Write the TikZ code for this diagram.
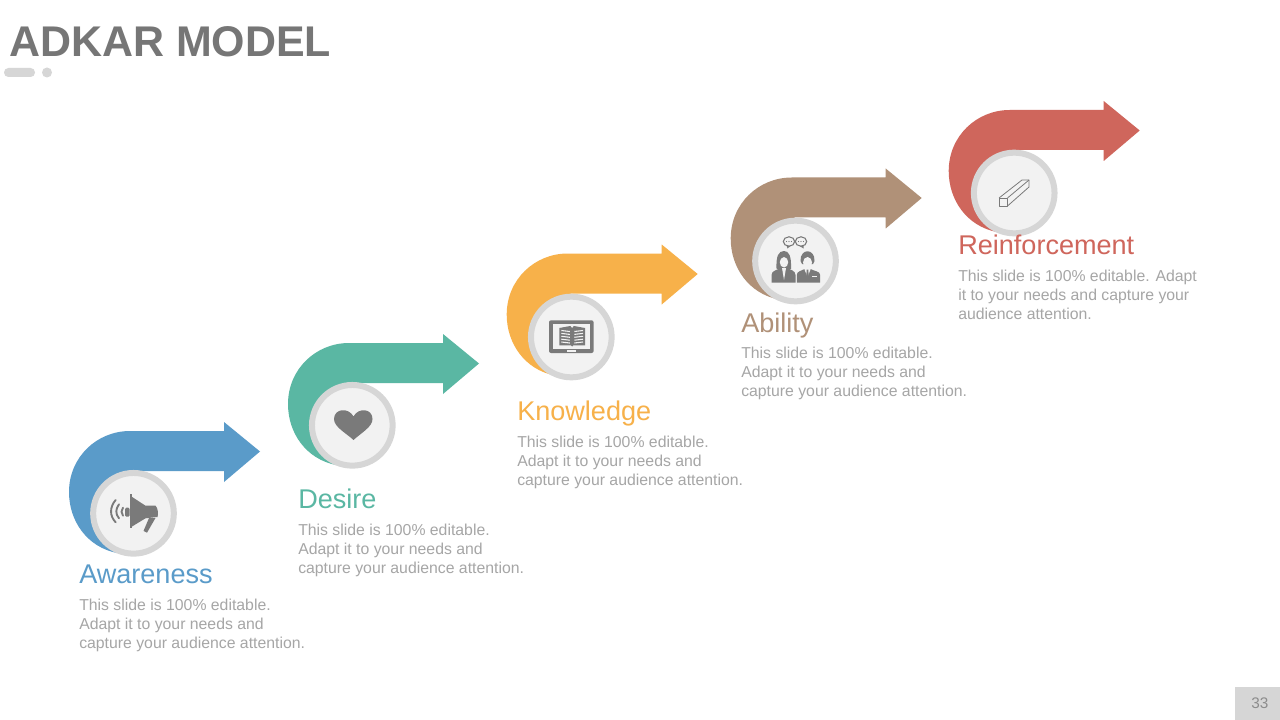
\documentclass[tikz,border=0pt]{standalone}
\usepackage{fontspec}
\setmainfont{Liberation Sans}
\definecolor{cblue}{HTML}{5A9BC9}
\definecolor{cteal}{HTML}{5AB7A3}
\definecolor{corange}{HTML}{F7B14A}
\definecolor{cbrown}{HTML}{B09178}
\definecolor{cred}{HTML}{CF665C}
\definecolor{ring}{HTML}{D6D6D6}
\definecolor{disc}{HTML}{F2F2F2}
\definecolor{icon}{HTML}{7A7A7A}
\definecolor{bodygray}{HTML}{A6A6A6}
\definecolor{titlegray}{HTML}{767676}
\definecolor{pagegray}{HTML}{8C8C8C}
\tikzset{
  x=0.75pt,y=-0.75pt,
  discnode/.style={circle,draw=ring,line width=4.5pt,fill=disc,minimum size=60.5pt,inner sep=0pt},
  headtext/.style={anchor=base west,inner sep=0pt,font=\fontsize{20.3}{24}\selectfont},
  bodytext/.style={anchor=north west,inner sep=0pt,align=left,text=bodygray,font=\fontsize{11.85}{14.25}\selectfont},
  pagebox/.style={fill=ring,draw=none,minimum width=33.75pt,minimum height=24.75pt,inner sep=0pt,text=pagegray,font=\fontsize{11.5}{14}\selectfont},
  titletext/.style={anchor=base west,inner sep=0pt,text=titlegray,font=\fontsize{32.2}{36}\selectfont\bfseries},
  iconline/.style={draw=icon,line width=0.6pt,fill=none,line join=round},
  waveline/.style={draw=icon,line width=1.4pt,fill=none,line cap=round},
  bubble/.style={draw=icon,line width=0.8pt,fill=disc}
}
% #1 colour, #2 centre x, #3 centre y
\newcommand{\swoosh}[3]{%
  \fill[#1,shift={(#2,#3)}] (-16,40) .. controls (-46,34) and (-64,8) .. (-64,-21)
    .. controls (-64,-56) and (-36,-82) .. (-3,-82)
    -- (91,-82) -- (91,-91) -- (127,-61.5) -- (91,-31) -- (91,-42) -- (0,-42) -- (0,0) -- cycle;
}
\begin{document}
\begin{tikzpicture}
\useasboundingbox (0,0) rectangle (1280,720);
\fill[white] (0,0) rectangle (1280,720);
\node[titletext] (title) at (9,57) {ADKAR MODEL};
\fill[ring,rounded corners=3.3pt] (4,68) rectangle (35,77);
\fill[ring] (47,72.5) circle (5);
\node[pagebox] (page) at (1257.5,703.5) {\hspace{3.4pt}33};

\swoosh{cblue}{133}{513}
\swoosh{cteal}{352}{425}
\swoosh{corange}{570.7}{335.5}
\swoosh{cbrown}{794.7}{259.5}
\swoosh{cred}{1012.7}{192}

\node[discnode] (d1) at (133.5,513.3) {};
\node[discnode] (d2) at (352.3,425.3) {};
\node[discnode] (d3) at (571.3,337) {};
\node[discnode] (d4) at (795.5,261) {};
\node[discnode] (d5) at (1014.2,193) {};

% megaphone
\begin{scope}[shift={(133.5,513)}]
  \fill[icon] (-3.8,-18.7) rectangle (-1.8,14.7);
  \fill[icon] (-1.8,-16.3) -- (12,-7.3) -- (22,-7.3) .. controls (24.5,-5) and (25,1) .. (24,4) -- (12,5.3) -- (-1.8,13.7) -- cycle;
  \fill[icon,rounded corners=1pt] (-8.5,-5.3) rectangle (-3.8,3.7);
  \fill[icon] (15.5,5) -- (22,5) -- (13.5,19.7) -- (10,18) -- cycle;
  \draw[waveline] (-10.5,-5.3) .. controls (-12.5,-3) and (-12.5,0.5) .. (-10.5,2.7);
  \draw[waveline] (-14.5,-8.7) .. controls (-18.1,-4) and (-18.1,1) .. (-14.5,5.3);
  \draw[waveline] (-17.8,-13) .. controls (-24,-6) and (-24,3) .. (-17.8,9.3);
\end{scope}
% heart
\begin{scope}[shift={(352,425)}]
  \fill[icon] (1.5,15) .. controls (-6,8) and (-18,2) .. (-18,-6)
    .. controls (-18,-16.5) and (-3.5,-18) .. (1.5,-8.5)
    .. controls (6.5,-18) and (20.5,-16.5) .. (20.5,-6)
    .. controls (20.5,2) and (9,8) .. (1.5,15) -- cycle;
\end{scope}
% tablet and book
\begin{scope}[shift={(571.3,337)}]
  \fill[icon,rounded corners=1.5pt] (-22.3,-16.7) rectangle (22.3,16);
  \fill[disc] (-18.3,-13.3) rectangle (18.3,11.7);
  \fill[disc] (-4.5,13.2) rectangle (4.5,14.6);
  \fill[icon] (-12,-9) -- (-1,-11) -- (0.8,-9) -- (2.6,-11) -- (13.7,-9) -- (13.7,8.3) -- (2,8.3) -- (0.8,9.5) -- (-0.4,8.3) -- (-12,8.3) -- cycle;
  \foreach \yy in {-5.5,-2.6,0.3,3.2,6}{
    \draw[disc,line width=0.8pt] (-10,\yy-1) -- (-1.5,\yy);
    \draw[disc,line width=0.8pt] (3,\yy) -- (11.7,\yy-1);
  }
\end{scope}
% two people
\begin{scope}[shift={(795.5,261)}]
  \draw[bubble] (-6.5,-19.5) ellipse (5.7 and 4.7);
  \fill[icon] (-9,-15.5) -- (-5,-15) -- (-8,-12.5) -- cycle;
  \draw[bubble] (5.5,-19.5) ellipse (5.7 and 4.7);
  \fill[icon] (4,-15) -- (8,-15.5) -- (8,-12.5) -- cycle;
  \foreach \xx in {-9,-6.5,-4,3,5.5,8}{\fill[icon] (\xx,-19.5) circle (0.7);}
  % woman
  \fill[icon] (-24,21.5) -- (-24,14) .. controls (-24,9.5) and (-18,9) .. (-15,7) -- (-8,7) .. controls (-5,9) and (0,9.5) .. (0,14) -- (0,21.5) -- cycle;
  \fill[icon] (-19,8) .. controls (-19.5,-5) and (-17,-10) .. (-11.5,-10) .. controls (-6.5,-10) and (-4,-5) .. (-4.5,8) -- cycle;
  \fill[disc] (-11.5,1.3) ellipse (4.2 and 5.2);
  \fill[disc] (-13.5,7) -- (-11.5,19) -- (-9.5,7) -- cycle;
  % man
  \fill[icon] (1.3,21.5) -- (1.3,14) .. controls (1.3,10) and (6,10) .. (9,8) -- (15,8) .. controls (18,10) and (24.7,10) .. (24.7,14) -- (24.7,21.5) -- cycle;
  \fill[icon] (5,0) .. controls (4.5,-13) and (19.5,-13) .. (19,0) -- (17.5,3) -- (6.5,3) -- cycle;
  \fill[disc] (12,1.5) ellipse (4.5 and 5.5);
  \fill[disc] (8.8,8) -- (12,16) -- (15.2,8) -- cycle;
  \fill[icon] (11.2,8.5) -- (12.8,8.5) -- (13.2,15) -- (12,17) -- (10.8,15) -- cycle;
  \fill[disc] (16.5,14.5) rectangle (21,15.6);
\end{scope}
% bar
\begin{scope}[shift={(1014,193)}]
  \draw[iconline] (-15,5) rectangle (-6.5,13);
  \draw[iconline] (-15,5) -- (8,-13) -- (15,-13) -- (15,-6) -- (-6.5,13);
  \draw[iconline] (-6.5,5) -- (15,-13);
\end{scope}

\node[headtext,text=cblue] (h1) at (79,583.4) {Awareness};
\node[bodytext] (b1) at (79,597.4) {\strut This slide is 100\% editable.\\Adapt it to your needs and\\capture your audience attention.};
\node[headtext,text=cteal] (h2) at (298,508.4) {Desire};
\node[bodytext] (b2) at (298,522.4) {\strut This slide is 100\% editable.\\Adapt it to your needs and\\capture your audience attention.};
\node[headtext,text=corange] (h3) at (517,420.4) {Knowledge};
\node[bodytext] (b3) at (517,434.4) {\strut This slide is 100\% editable.\\Adapt it to your needs and\\capture your audience attention.};
\node[headtext,text=cbrown] (h4) at (741,332.4) {Ability};
\node[bodytext] (b4) at (741,345.4) {\strut This slide is 100\% editable.\\Adapt it to your needs and\\capture your audience attention.};
\node[headtext,text=cred] (h5) at (958,254.6) {Reinforcement};
\node[bodytext] (b5) at (958,268.4) {\strut This slide is 100\% editable. Adapt\\it to your needs and capture your\\audience attention.};
\end{tikzpicture}
\end{document}
